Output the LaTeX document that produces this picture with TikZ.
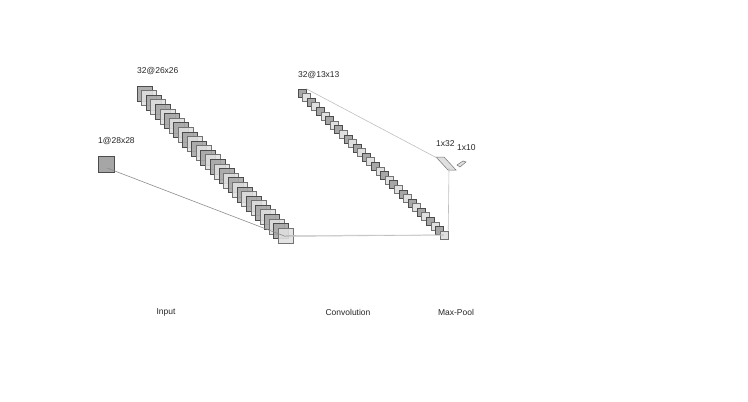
\documentclass[tikz,border=0pt]{standalone}
\usepackage{fontspec}
\setmainfont{Liberation Sans}
\begin{document}
\begin{tikzpicture}[x=1pt,y=-1pt,
  lbl/.style={font=\fontsize{8.5}{10}\selectfont,text=black!85,inner sep=0pt},
  conn/.style={draw=black!45,line width=0.6pt},
  connl/.style={draw=black!25,line width=0.6pt},
  dk/.style={fill=black!35,draw=black!70,line width=0.5pt},
  lt/.style={fill=black!12,draw=black!55,line width=0.5pt}]
\useasboundingbox (0,0) rectangle (748,402);
% input
\node[dk,minimum size=16pt,inner sep=0pt] (in) at (106,164) {};
% conv stack
\foreach \i in {0,...,31}{
  \pgfmathsetmacro\xx{144.5+\i*4.55}
  \pgfmathsetmacro\yy{93.5+\i*4.58}
  \ifodd\i \def\st{lt}\else\def\st{dk}\fi
  \node[\st,minimum size=15pt,inner sep=0pt,fill opacity=0.9] (c\i) at (\xx,\yy) {};
}
% pool stack
\foreach \i in {0,...,31}{
  \pgfmathsetmacro\xx{302+\i*4.58}
  \pgfmathsetmacro\yy{93+\i*4.58}
  \ifodd\i \def\st{lt}\else\def\st{dk}\fi
  \node[\st,minimum size=8pt,inner sep=0pt] (p\i) at (\xx,\yy) {};
}
% dense layers
\coordinate (d1) at (446,163);
\coordinate (d2) at (461,164);
\draw[lt] (436,157) -- (444,157) -- (456,170) -- (448,170) -- cycle;
\draw[lt] (457,165) -- (463,161) -- (466,162) -- (460,167) -- cycle;
% connectors
\draw[conn] ([shift={(1,4)}]in.center) -- ([shift={(0,1)}]c31.center);
\draw[connl] ([shift={(0,1)}]c31.center) -- (p31.center);
\draw[connl] (c31.center) -- (p31.center);
\draw[connl] (p0.north east) -- (437,158);
\draw[connl] (p31.north east) -- (449,168);
% labels
\node[lbl,anchor=south west] (l1) at (137,75) {32@26x26};
\node[lbl,anchor=south west] (l2) at (98,145) {1@28x28};
\node[lbl,anchor=south west] (l3) at (298,79) {32@13x13};
\node[lbl,anchor=south west] (l4) at (436,147) {1x32};
\node[lbl,anchor=south west] (l5) at (457,151) {1x10};
\node[lbl] (b1) at (166,312) {Input};
\node[lbl] (b2) at (348,312) {Convolution};
\node[lbl] (b3) at (456,312) {Max-Pool};
\end{tikzpicture}
\end{document}
